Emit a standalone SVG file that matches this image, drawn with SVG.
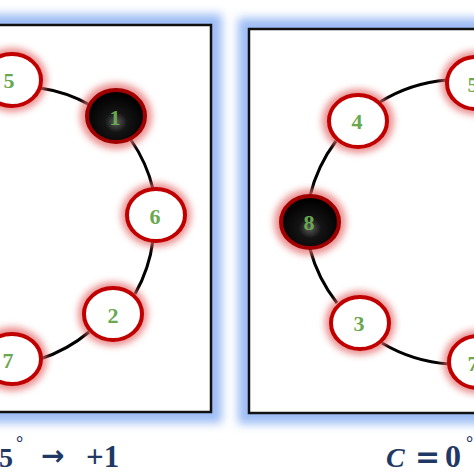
<svg xmlns="http://www.w3.org/2000/svg" width="474" height="474" viewBox="0 0 474 474">
<defs>
<filter id="blueGlow" x="-20%" y="-20%" width="140%" height="140%"><feGaussianBlur stdDeviation="5"/></filter>
<filter id="redGlow" x="-50%" y="-50%" width="200%" height="200%"><feGaussianBlur stdDeviation="3.5"/></filter>
<radialGradient id="blackBall" cx="50%" cy="62%" r="55%">
<stop offset="0" stop-color="#5a5a5a"/>
<stop offset="0.35" stop-color="#141414"/>
<stop offset="1" stop-color="#000"/>
</radialGradient>
<style>
.panel{fill:#fff;stroke:#111;stroke-width:2.5}
.glowbox{fill:none;stroke:#9dbdf5;stroke-width:22}
.halo{fill:#e46a6a;opacity:0.75}
.node{fill:#fff;stroke:#c00000;stroke-width:4}
.dark{fill:url(#blackBall);stroke:#a00000;stroke-width:4}
.lbl{font-family:"Liberation Serif",serif;font-weight:bold;font-size:22px;fill:#6aa84f;text-anchor:middle;dominant-baseline:central}
.edge{fill:none;stroke:#000;stroke-width:3}
.cap{font-family:"Liberation Serif",serif;font-weight:bold;font-size:28px;fill:#1f3864}
.deg{font-family:"Liberation Serif",serif;font-size:18px;fill:#1f3864}
</style>
</defs>
<rect width="474" height="474" fill="#fff"/>
<g id="panels">
<rect class="glowbox" x="-20" y="25" width="231" height="387" filter="url(#blueGlow)"/>
<rect class="glowbox" x="249" y="29" width="240" height="384" filter="url(#blueGlow)"/>
<rect class="panel" x="-20" y="25" width="231" height="387"/>
<rect class="panel" x="249" y="29" width="240" height="384"/>
</g>
<g id="connectors">
<path class="edge" d="M40,88 A145,145 0 0 1 90,105"/>
<path class="edge" d="M131,140 A145,145 0 0 1 153,189"/>
<path class="edge" d="M153,240 A145,145 0 0 1 135,294"/>
<path class="edge" d="M89,332 A145,145 0 0 1 40,359"/>
<path class="edge" d="M447,80 A150,150 0 0 0 380,102"/>
<path class="edge" d="M336,141 A150,150 0 0 0 310,196"/>
<path class="edge" d="M310,249 A150,150 0 0 0 337,303"/>
<path class="edge" d="M382,343 A150,150 0 0 0 449,364"/>
</g>
<g id="n5L"><ellipse class="halo" cx="12" cy="80" rx="35" ry="32" filter="url(#redGlow)"/><ellipse class="node" cx="12" cy="80" rx="29" ry="26"/><text class="lbl" x="9" y="80">5</text></g>
<g id="n1"><ellipse class="halo" cx="116" cy="116" rx="36" ry="33" filter="url(#redGlow)"/><ellipse class="dark" cx="116" cy="116" rx="29" ry="26"/><text class="lbl" x="115" y="117">1</text></g>
<g id="n6"><ellipse class="halo" cx="156" cy="215" rx="35" ry="32" filter="url(#redGlow)"/><ellipse class="node" cx="156" cy="215" rx="29" ry="26"/><text class="lbl" x="155" y="216">6</text></g>
<g id="n2"><ellipse class="halo" cx="113" cy="314" rx="35" ry="32" filter="url(#redGlow)"/><ellipse class="node" cx="113" cy="314" rx="29" ry="26"/><text class="lbl" x="113" y="315">2</text></g>
<g id="n7L"><ellipse class="halo" cx="12" cy="359" rx="35" ry="32" filter="url(#redGlow)"/><ellipse class="node" cx="12" cy="359" rx="29" ry="25"/><text class="lbl" x="8" y="360">7</text></g>
<g id="n4"><ellipse class="halo" cx="358" cy="121" rx="36" ry="32" filter="url(#redGlow)"/><ellipse class="node" cx="358" cy="121" rx="29" ry="26"/><text class="lbl" x="357" y="121">4</text></g>
<g id="n5R"><ellipse class="halo" cx="476" cy="83" rx="35" ry="32" filter="url(#redGlow)"/><ellipse class="node" cx="476" cy="83" rx="29" ry="26"/><text class="lbl" x="473" y="84">5</text></g>
<g id="n8"><ellipse class="halo" cx="310" cy="222" rx="36" ry="33" filter="url(#redGlow)"/><ellipse class="dark" cx="310" cy="222" rx="29" ry="26"/><text class="lbl" x="309" y="222">8</text></g>
<g id="n3"><ellipse class="halo" cx="360" cy="323" rx="35" ry="32" filter="url(#redGlow)"/><ellipse class="node" cx="360" cy="323" rx="29" ry="26"/><text class="lbl" x="359" y="323">3</text></g>
<g id="n7R"><ellipse class="halo" cx="478" cy="362" rx="35" ry="32" filter="url(#redGlow)"/><ellipse class="node" cx="478" cy="362" rx="29" ry="26"/><text class="lbl" x="473" y="363">7</text></g>
<g id="captions">
<text class="cap" y="467"><tspan x="-1">5</tspan><tspan class="deg" x="16" y="449">°</tspan><tspan x="41" y="465" font-family="DejaVu Sans" font-size="28">→</tspan><tspan x="86" y="467" font-size="31">+1</tspan></text>
<text class="cap" y="467" font-size="31"><tspan x="386" font-style="italic">C</tspan><tspan x="415" font-family="DejaVu Sans" font-size="30">=</tspan><tspan x="445" font-size="32">0</tspan><tspan class="deg" x="466" y="449">°</tspan></text>
</g>
</svg>
